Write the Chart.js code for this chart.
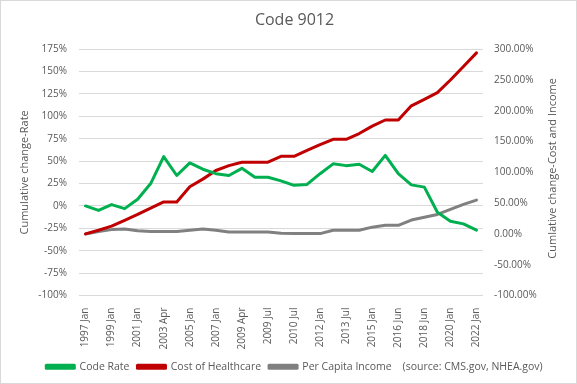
<!DOCTYPE html>
<html>
<head>
<meta charset="utf-8">
<script src="https://cdn.jsdelivr.net/npm/chart.js@4"></script>
<style>
  html, body { margin: 0; padding: 0; background: #ffffff; }
  #wrap { width: 577px; height: 384px; box-sizing: border-box; border: 1px solid #d9d9d9; background: #fff; }
  #wrap canvas { display: block; }
</style>
</head>
<body>
<div id="wrap"><canvas id="c" width="575" height="382"></canvas></div>
<script>
const categories = [
  "1997 Jan","1998 Jan","1999 Jan","2000 Jan","2001 Jan","2002 Jan","2003 Apr","2004 Jan",
  "2005 Jan","2006 Jan","2007 Jan","2008 Jan","2009 Apr","2009 Jun","2009 Jul","2010 Jan",
  "2010 Jul","2011 Jan","2012 Jan","2012 Jul","2013 Jul","2014 Jan","2015 Jan","2015 Jul",
  "2016 Jun","2017 Jun","2018 Jun","2019 Jan","2020 Jan","2021 Jan","2022 Jan"
];
// Left axis (percent)
const codeRate = [
  0, -5, 1.5, -3, 7.5, 25, 55, 34, 48, 41, 36, 34, 42, 32, 32, 28,
  23, 24, 36, 47, 45, 46.5, 38.5, 56.5, 36, 23.5, 21, -7, -17, -20, -27
];
// Right axis (percent)
const costOfHealthcare = [
  0, 6, 12.6, 22, 31.6, 42, 52, 52, 76.5, 89, 103, 111, 116.5, 116.5, 116.5, 126,
  126, 135.6, 145, 153.6, 153.6, 163, 175, 185, 185, 208, 218.5, 229.5, 250, 272, 294
];
const perCapitaIncome = [
  0, 4, 7, 8, 5, 4, 4, 4, 6, 8, 6, 3, 3, 3, 3, 1,
  0.5, 0.5, 0.5, 6, 6, 6, 11, 14, 14, 22.5, 27, 31.6, 40, 48, 55
];
const leftTicks = { min: -100, max: 175, step: 25 };
const rightTicks = { min: -100, max: 300, step: 50 };
const sourceNote = "(source: CMS.gov, NHEA.gov)";

const TXT = '#595959';
const FONT = "'Open Sans', 'DejaVu Sans', sans-serif";

const rightTitlePlugin = {
  id: 'rightTitle',
  afterDraw(chart) {
    const s = chart.scales.y1;
    const ctx = chart.ctx;
    ctx.save();
    ctx.font = "11px " + FONT;
    ctx.fillStyle = TXT;
    ctx.textAlign = 'center';
    ctx.textBaseline = 'middle';
    ctx.translate(s.right - 23, (chart.chartArea.top + chart.chartArea.bottom) / 2 - 4);
    ctx.rotate(-Math.PI / 2);
    ctx.fillText("Cumlative change-Cost and Income", 0, 0);
    ctx.restore();
  }
};

new Chart(document.getElementById('c'), {
  type: 'line',
  data: {
    labels: categories,
    datasets: [
      { label: 'Code Rate', data: codeRate, borderColor: '#00b050', backgroundColor: '#00b050', yAxisID: 'y' },
      { label: 'Cost of Healthcare', data: costOfHealthcare, borderColor: '#c00000', backgroundColor: '#c00000', yAxisID: 'y1' },
      { label: 'Per Capita Income', data: perCapitaIncome, borderColor: '#808080', backgroundColor: '#808080', yAxisID: 'y1' }
    ]
  },
  options: {
    responsive: false,
    animation: false,
    devicePixelRatio: 1,
    elements: {
      line: { borderWidth: 3, tension: 0, borderCapStyle: 'round', borderJoinStyle: 'round' },
      point: { radius: 0, hoverRadius: 0 }
    },
    layout: { padding: { left: 12, right: 0, top: 0, bottom: 1 } },
    plugins: {
      title: {
        display: true,
        text: 'Code 9012',
        color: TXT,
        font: { family: FONT, size: 16, weight: 'normal' },
        padding: { top: 10, bottom: 19 }
      },
      legend: {
        position: 'bottom',
        labels: {
          color: TXT,
          font: { family: FONT, size: 10.5 },
          boxWidth: 28,
          boxHeight: 3,
          padding: 8,
          generateLabels(chart) {
            const items = Chart.defaults.plugins.legend.labels.generateLabels(chart);
            items[items.length - 1].text += "    " + sourceNote;
            return items;
          }
        }
      },
      tooltip: { enabled: false }
    },
    scales: {
      x: {
        type: 'category',
        offset: true,
        grid: { display: false },
        border: { display: false },
        ticks: {
          color: TXT,
          font: { family: FONT, size: 10 },
          autoSkip: false,
          maxRotation: 90,
          minRotation: 90,
          padding: 4,
          callback(v, i) { return i % 2 === 0 ? categories[i] : ''; }
        }
      },
      y: {
        position: 'left',
        min: leftTicks.min,
        max: leftTicks.max,
        grid: { color: '#d9d9d9', lineWidth: 1, drawTicks: false },
        border: { display: false },
        ticks: {
          stepSize: leftTicks.step,
          color: TXT,
          font: { family: FONT, size: 10 },
          padding: 12,
          callback(v) { return v + '%'; }
        },
        title: {
          display: true,
          text: 'Cumulative change-Rate',
          color: TXT,
          font: { family: FONT, size: 11 },
          padding: { top: 5, bottom: 0 }
        },
        afterFit(s) { s.width = 66; }
      },
      y1: {
        position: 'right',
        min: rightTicks.min,
        max: rightTicks.max,
        grid: { display: false, drawTicks: false },
        border: { display: false },
        ticks: {
          stepSize: rightTicks.step,
          color: TXT,
          font: { family: FONT, size: 10 },
          padding: 11,
          callback(v) { return v.toFixed(2) + '%'; }
        },
        afterFit(s) { s.width = 93; }
      }
    }
  },
  plugins: [rightTitlePlugin]
});
</script>
</body>
</html>
